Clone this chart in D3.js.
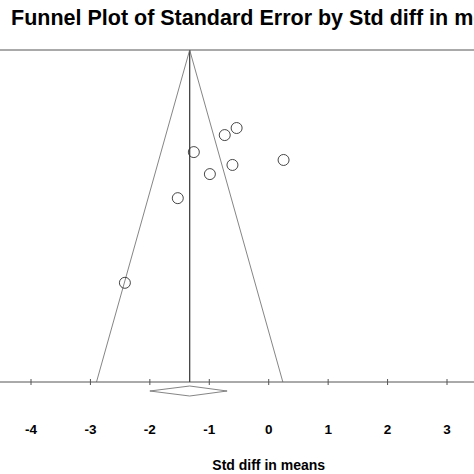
<!DOCTYPE html><html><head><meta charset="utf-8"><script src="https://cdn.jsdelivr.net/npm/d3@7"></script>
<style>body{margin:0;background:#fff}</style></head><body><svg id="c" width="474" height="474"></svg><script>
const studyEffects=[-2.42,-1.53,-1.26,-0.99,-0.74,-0.61,-0.54,0.25];
const studySE=[0.561,0.357,0.246,0.299,0.205,0.277,0.188,0.265];
const pooledEffect=-1.33, pooledLow=-2.0, pooledHigh=-0.7;
const xTicks=[-4,-3,-2,-1,0,1,2,3];
const seMax=0.8;
const svg=d3.select("#c");
const x=d3.scaleLinear().domain([-4,3]).range([31,447]);
const y=d3.scaleLinear().domain([0,seMax]).range([50,382]);
const f="Arial, 'Liberation Sans', sans-serif";
svg.append("text").attr("x",11).attr("y",25).attr("font-family",f).attr("font-weight","bold").attr("font-size",21.5).text("Funnel Plot of Standard Error by Std diff in means");
svg.append("line").attr("x1",0).attr("x2",474).attr("y1",y(0)).attr("y2",y(0)).attr("stroke","#555");
const ax=svg.append("g").attr("transform",`translate(0,${y(seMax)})`);
ax.append("line").attr("x1",0).attr("x2",474).attr("stroke","#555");
ax.selectAll("line.t").data(xTicks).join("line").attr("class","t").attr("x1",d=>x(d)).attr("x2",d=>x(d)).attr("y1",-3).attr("y2",3).attr("stroke","#555");
ax.selectAll("text").data(xTicks).join("text").attr("x",d=>x(d)).attr("y",52).attr("text-anchor","middle").attr("font-family",f).attr("font-weight","bold").attr("font-size",13.5).text(d=>d);
svg.append("text").attr("x",x(0)).attr("y",470).attr("text-anchor","middle").attr("font-family",f).attr("font-weight","bold").attr("font-size",14).text("Std diff in means");
svg.append("line").attr("x1",x(pooledEffect)).attr("x2",x(pooledEffect)).attr("y1",y(0)).attr("y2",y(seMax)).attr("stroke","#444").attr("stroke-width",1.3);
const fun=[[pooledEffect-1.96*seMax,seMax],[pooledEffect,0],[pooledEffect+1.96*seMax,seMax]];
svg.append("path").attr("d",d3.line().x(d=>x(d[0])).y(d=>y(d[1]))(fun)).attr("fill","none").attr("stroke","#666").attr("stroke-width",0.8);
const dy=y(seMax)+9;
svg.append("path").attr("d",`M${x(pooledLow)},${dy}L${x(pooledEffect)},${dy-5}L${x(pooledHigh)},${dy}L${x(pooledEffect)},${dy+5}Z`).attr("fill","none").attr("stroke","#666").attr("stroke-width",0.8);
svg.selectAll("circle").data(studyEffects).join("circle").attr("cx",d=>x(d)).attr("cy",(d,i)=>y(studySE[i])).attr("r",5.5).attr("fill","none").attr("stroke","#333").attr("stroke-width",0.9);
</script></body></html>
